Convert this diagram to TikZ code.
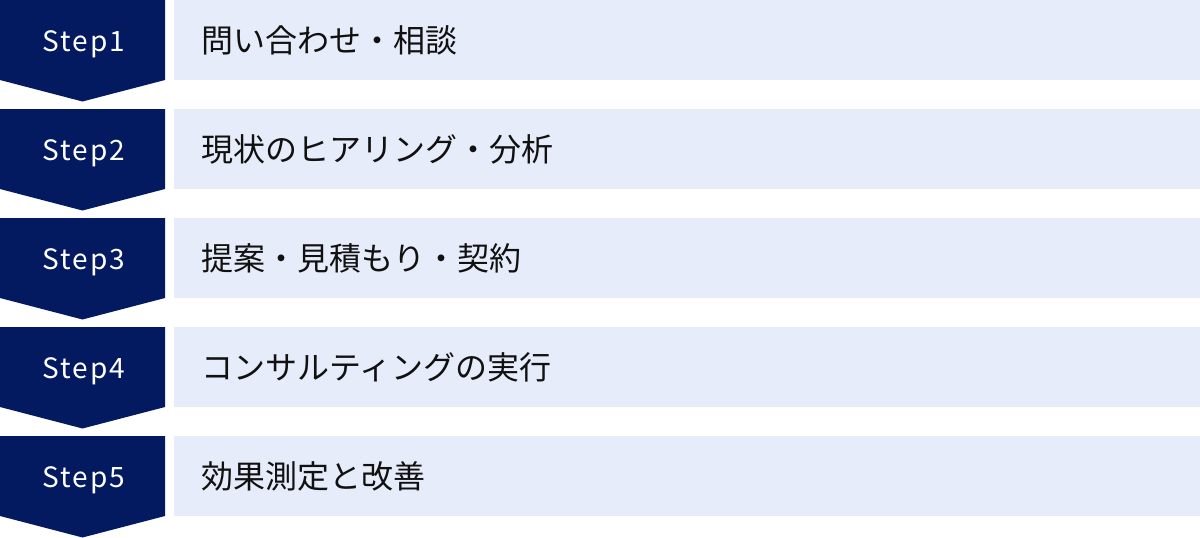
\documentclass[tikz,border=0pt]{standalone}
\usepackage{fontspec}
\setmainfont{Noto Sans CJK JP}
\newfontfamily\jpfont{Noto Sans CJK JP}
\newfontfamily\stepfont[LetterSpace=7]{Noto Sans CJK JP}
\definecolor{navy}{HTML}{041A60}
\definecolor{barblue}{HTML}{E6ECF9}
\definecolor{txt}{HTML}{111111}
\tikzset{
  x=1pt, y=-1pt,
  stepshape/.style={fill=navy, draw=none},
  steplabel/.style={text=white, font=\stepfont\fontsize{28}{28}\selectfont, inner sep=0pt, anchor=base},
  bar/.style={fill=barblue, draw=none, minimum width=1026pt, minimum height=80pt, inner sep=0pt, anchor=north west},
  bartext/.style={text=txt, font=\jpfont\fontsize{32}{32}\selectfont, inner sep=0pt, anchor=west}
}
\begin{document}
\begin{tikzpicture}
\useasboundingbox (0,0) rectangle (1200,538);
\foreach \i/\t in {1/問い合わせ・相談, 2/現状のヒアリング・分析, 3/提案・見積もり・契約, 4/コンサルティングの実行, 5/効果測定と改善} {
  \pgfmathsetmacro{\yo}{(\i-1)*109}
  \fill[stepshape] (0,\yo) -- (165,\yo) -- (165,\yo+80) -- (82.5,\yo+101.5) -- (0,\yo+80) -- cycle;
  \node[steplabel] (s\i) at (84,\yo+51) {Step\i};
  \node[bar] (b\i) at (174,\yo) {};
  \node[bartext] (t\i) at (201,\yo+40) {\t};
}
\end{tikzpicture}
\end{document}
